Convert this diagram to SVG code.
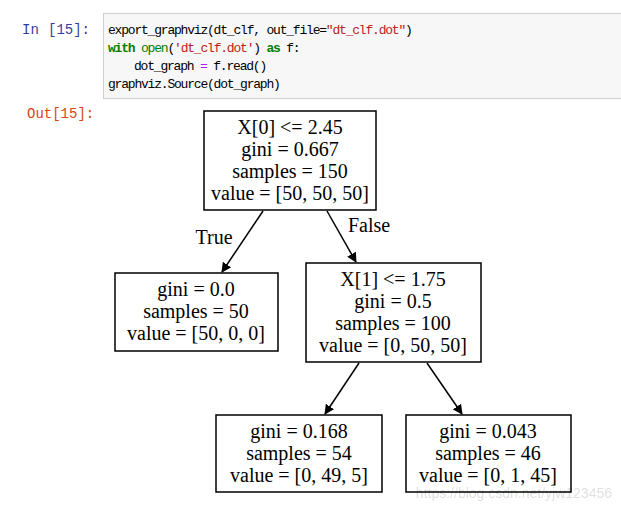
<svg xmlns="http://www.w3.org/2000/svg" width="621" height="511" viewBox="0 0 621 511">
<style>
.code{font-family:"Liberation Mono",monospace;font-size:13px;letter-spacing:-1.2px;fill:#000}
.n rect{fill:#fff;stroke:#000;stroke-width:1.5}
.n text,.lbl{font-family:"Liberation Serif","DejaVu Serif",serif;font-size:20px;fill:#000;text-anchor:middle}
.e{stroke:#000;stroke-width:1.5;fill:none;marker-end:url(#ah)}
</style>
<defs><marker id="ah" markerWidth="10" markerHeight="10" refX="9" refY="5" orient="auto" markerUnits="userSpaceOnUse" viewBox="0 0 10 10"><path d="M0,0 L10,5 L0,10 z" fill="#000"/></marker></defs>
<rect width="621" height="511" fill="#fff"/>
<rect x="103.5" y="13.5" width="524" height="85" fill="#f7f7f7" stroke="#cfcfcf"/>
<text x="22" y="34" font-family="Liberation Mono,monospace" font-size="14" fill="#303F9F">In</text>
<text x="48" y="34" font-family="Liberation Mono,monospace" font-size="14" fill="#303F9F">[15]:</text>
<text x="27" y="118" font-family="Liberation Mono,monospace" font-size="14" fill="#D84315">Out[15]:</text>
<text class="code" x="108" y="34">export_graphviz(dt_clf, out_file=<tspan fill="#BA2121">"dt_clf.dot"</tspan>)</text>
<text class="code" x="108" y="52"><tspan fill="#008000" font-weight="bold">with</tspan> <tspan fill="#008000">open</tspan>(<tspan fill="#BA2121">'dt_clf.dot'</tspan>) <tspan fill="#008000" font-weight="bold">as</tspan> f:</text>
<text class="code" x="134" y="70">dot_graph <tspan fill="#AA22FF">=</tspan> f.read()</text>
<text class="code" x="108" y="88">graphviz.Source(dot_graph)</text>
<g id="edges">
<line class="e" x1="263" y1="211" x2="222" y2="272"/>
<line class="e" x1="327" y1="211" x2="356" y2="262"/>
<line class="e" x1="359" y1="363" x2="325" y2="414"/>
<line class="e" x1="427" y1="363" x2="462" y2="414"/>
<text class="lbl" x="214" y="244">True</text>
<text class="lbl" x="369" y="232">False</text>
</g>
<g id="root" class="n"><rect x="204" y="111" width="172" height="99"/>
<text x="290" y="134">X[0] &lt;= 2.45</text><text x="290" y="156">gini = 0.667</text><text x="290" y="178">samples = 150</text><text x="290" y="200">value = [50, 50, 50]</text></g>
<g id="left" class="n"><rect x="115" y="273" width="163" height="78"/>
<text x="196" y="296">gini = 0.0</text><text x="196" y="318">samples = 50</text><text x="196" y="340">value = [50, 0, 0]</text></g>
<g id="right" class="n"><rect x="306" y="263" width="175" height="99"/>
<text x="393" y="286">X[1] &lt;= 1.75</text><text x="393" y="308">gini = 0.5</text><text x="393" y="330">samples = 100</text><text x="393" y="352">value = [0, 50, 50]</text></g>
<g id="ll" class="n"><rect x="216" y="415" width="166" height="77"/>
<text x="299" y="438">gini = 0.168</text><text x="299" y="460">samples = 54</text><text x="299" y="482">value = [0, 49, 5]</text></g>
<g id="lr" class="n"><rect x="406" y="415" width="165" height="77"/>
<text x="488" y="438">gini = 0.043</text><text x="488" y="460">samples = 46</text><text x="488" y="482">value = [0, 1, 45]</text></g>
<text x="612" y="498" font-family="Liberation Sans,sans-serif" font-size="14" fill="#000" fill-opacity="0.15" text-anchor="end">https://blog.csdn.net/yjw123456</text>
</svg>
